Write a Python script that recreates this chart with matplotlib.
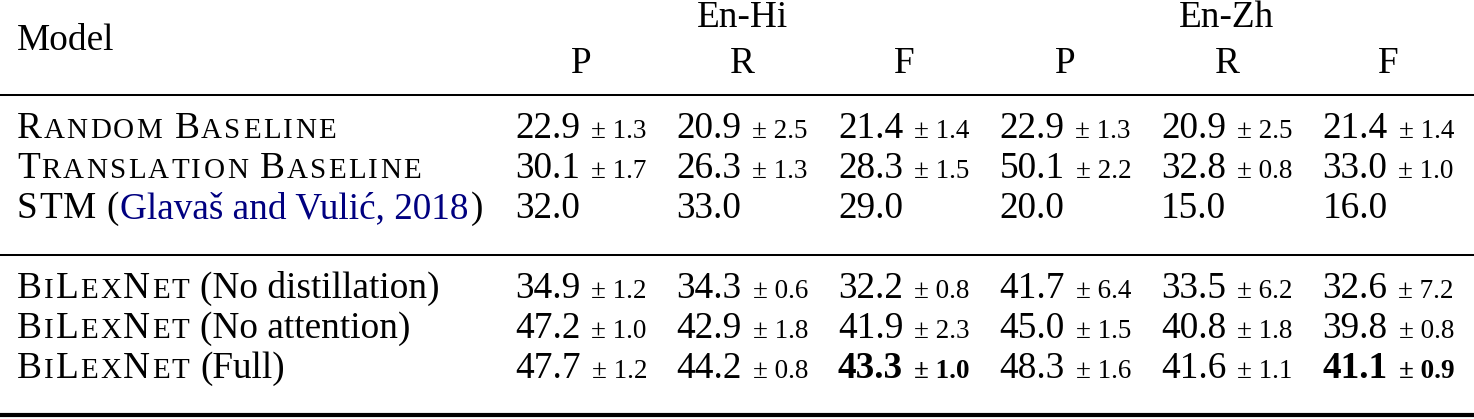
import matplotlib
matplotlib.use("Agg")
import matplotlib.pyplot as plt

# table content
groups = ["En-Hi", "En-Zh"]
metrics = ["P", "R", "F"]

row_names = ["Random Baseline", "Translation Baseline", "STM",
             "BiLexNet", "BiLexNet", "BiLexNet"]
row_suffix = ["", "", "", "(No distillation)", "(No attention)", "(Full)"]
row_cite = ["", "", "Glavaš and Vulić, 2018", "", "", ""]

en_hi_p = [22.9, 30.1, 32.0, 34.9, 47.2, 47.7]
en_hi_p_sd = [1.3, 1.7, None, 1.2, 1.0, 1.2]
en_hi_r = [20.9, 26.3, 33.0, 34.3, 42.9, 44.2]
en_hi_r_sd = [2.5, 1.3, None, 0.6, 1.8, 0.8]
en_hi_f = [21.4, 28.3, 29.0, 32.2, 41.9, 43.3]
en_hi_f_sd = [1.4, 1.5, None, 0.8, 2.3, 1.0]
en_zh_p = [22.9, 50.1, 20.0, 41.7, 45.0, 48.3]
en_zh_p_sd = [1.3, 2.2, None, 6.4, 1.5, 1.6]
en_zh_r = [20.9, 32.8, 15.0, 33.5, 40.8, 41.6]
en_zh_r_sd = [2.5, 0.8, None, 6.2, 1.8, 1.1]
en_zh_f = [21.4, 33.0, 16.0, 32.6, 39.8, 41.1]
en_zh_f_sd = [1.4, 1.0, None, 7.2, 0.8, 0.9]

# (column, row) of bold cells
bold_cells = [(2, 5), (5, 5)]

columns = [en_hi_p, en_hi_r, en_hi_f, en_zh_p, en_zh_r, en_zh_f]
columns_sd = [en_hi_p_sd, en_hi_r_sd, en_hi_f_sd, en_zh_p_sd, en_zh_r_sd, en_zh_f_sd]

# layout (pixels)
W, H = 1474, 419
FONT = "Liberation Serif"
MAIN = 26.8
SMALLCAP = MAIN * 0.78
SDSIZE = MAIN * 0.73
SPACE = 10
CAP_GAP = 1.5
SC_GAP = 2.3
CITE_COLOR = "#000080"

label_x = 17
col_x0, col_step = 515, 161.5
head_off = 66
row_base = [138, 178, 218, 298, 338, 378]

fig = plt.figure(figsize=(W / 100, H / 100), dpi=100)
ax = fig.add_axes([0, 0, 1, 1])
ax.set_xlim(0, W)
ax.set_ylim(H, 0)
ax.axis("off")
renderer = fig.canvas.get_renderer()


def put(x, y, s, size=MAIN, weight="normal", color="black", ha="left"):
    t = ax.text(x, y, s, fontsize=size, fontweight=weight, color=color,
                family=FONT, ha=ha, va="baseline")
    return t.get_window_extent(renderer).width


def smallcaps(x, y, s):
    for i, word in enumerate(s.split(" ")):
        if i:
            x += SPACE
        for c in word:
            if c.islower():
                x += put(x, y, c.upper(), SMALLCAP) + SC_GAP
            else:
                x += put(x, y, c) + CAP_GAP
    return x


# header
put(label_x, 50, "Model")
for g, name in enumerate(groups):
    mid = col_x0 + (3 * g + 1) * col_step + head_off
    put(mid, 27, name, ha="center")
    for m, met in enumerate(metrics):
        put(col_x0 + (3 * g + m) * col_step + head_off, 73, met, ha="center")

# rules
ax.axhline(95, color="black", lw=1.45)
ax.axhline(255, color="black", lw=1.45)
ax.axhline(415, color="black", lw=3.0)

# body
for r, name in enumerate(row_names):
    y = row_base[r]
    x = smallcaps(label_x, y, name)
    if row_suffix[r]:
        x += SPACE - CAP_GAP
        put(x, y, row_suffix[r])
    if row_cite[r]:
        x += SPACE - CAP_GAP
        x += put(x, y, "(") + 1.5
        x += put(x, y, row_cite[r], color=CITE_COLOR) + 1.5
        put(x, y, ")")

    for c in range(len(columns)):
        w = "bold" if (c, r) in bold_cells else "normal"
        x = col_x0 + c * col_step
        x += put(x, y, f"{columns[c][r]:.1f}", MAIN, w)
        sd = columns_sd[c][r]
        if sd is not None:
            x += 11
            put(x, y, f"± {sd:.1f}", SDSIZE, w)

fig.savefig("out.png", dpi=100)
